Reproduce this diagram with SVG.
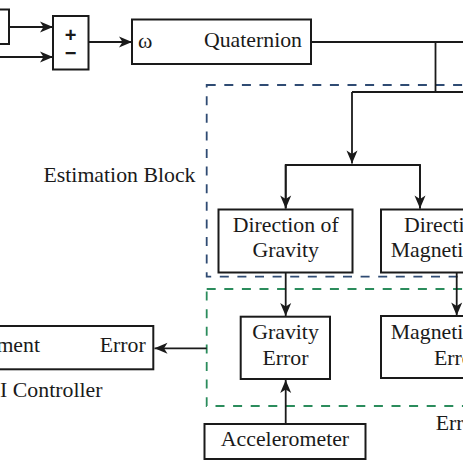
<svg xmlns="http://www.w3.org/2000/svg" width="463" height="463" viewBox="0 0 463 463">
<defs>
<style>
.box{fill:#fff;stroke:#1a1a1a;stroke-width:2}
.ln{fill:none;stroke:#1a1a1a;stroke-width:1.8}
.t{font-family:"Liberation Serif","Times New Roman",serif;font-size:21.8px;fill:#1a1a1a}
.c{text-anchor:middle}
.e{text-anchor:end}
.blue{fill:none;stroke:#2f4b73;stroke-width:1.8;stroke-dasharray:9 8.6}
.green{fill:none;stroke:#2b8c5c;stroke-width:1.8;stroke-dasharray:9 8.6}
.sign{font-family:"Liberation Sans",Arial,sans-serif;font-weight:bold;font-size:20px;fill:#1a1a1a;text-anchor:middle}
</style>
<marker id="ah" markerUnits="userSpaceOnUse" markerWidth="16" markerHeight="14" viewBox="-14 -7 16 14" refX="0" refY="0" orient="auto">
<path d="M0,0 L-13,-5.5 L-9.5,0 L-13,5.5 Z" fill="#1a1a1a"/>
</marker>
</defs>
<rect width="463" height="463" fill="#fff"/>

<g id="estimation-block">
<rect class="blue" x="206.7" y="85" width="320" height="191.7"/>
<text class="t" x="43.5" y="181.7">Estimation Block</text>
</g>
<g id="error-block">
<rect class="green" x="206.7" y="289" width="320" height="117"/>
<text class="t" x="435.7" y="429.5">Error Block</text>
</g>

<g id="connectors">
<path class="ln" d="M9,27 H53" marker-end="url(#ah)"/>
<path class="ln" d="M-2,57 H53" marker-end="url(#ah)"/>
<path class="ln" d="M88.5,42 H132" marker-end="url(#ah)"/>
<path class="ln" d="M311,42 H465"/>
<path class="ln" d="M435.5,42 V92"/>
<path class="ln" d="M352,92 H465"/>
<path class="ln" d="M352,92 V163.5" marker-end="url(#ah)"/>
<path class="ln" d="M285.7,208.5 V165 H420 V208.5"/>
<path class="ln" d="M285.7,165 V208.5" marker-end="url(#ah)"/>
<path class="ln" d="M420,165 V208.5" marker-end="url(#ah)"/>
<path class="ln" d="M285.7,273 V316" marker-end="url(#ah)"/>
<path class="ln" d="M456.7,273 V315.5" marker-end="url(#ah)"/>
<path class="ln" d="M285.7,424 V380" marker-end="url(#ah)"/>
<path class="ln" d="M206.7,348.3 H154.5" marker-end="url(#ah)"/>
</g>

<g id="input-box">
<rect class="box" x="-50" y="9.5" width="59" height="34.5"/>
</g>
<g id="sum">
<rect class="box" x="53" y="16" width="35.5" height="53.5"/>
<text class="sign" x="70.5" y="41.5">+</text>
<text class="sign" x="70.5" y="60">−</text>
</g>
<g id="quaternion">
<rect class="box" x="132" y="19.5" width="179" height="44.5"/>
<text class="t" x="138" y="48">ω</text>
<text class="t e" x="302" y="47">Quaternion</text>
</g>
<g id="direction-gravity">
<rect class="box" x="218.5" y="209.5" width="134" height="63"/>
<text class="t c" x="285.7" y="232">Direction of</text>
<text class="t c" x="285.7" y="257">Gravity</text>
</g>
<g id="direction-magnetic">
<rect class="box" x="381" y="209.5" width="152" height="63"/>
<text class="t c" x="457" y="232">Direction of</text>
<text class="t c" x="457" y="257">Magnetic Field</text>
</g>
<g id="gravity-error">
<rect class="box" x="240.7" y="316.7" width="89.3" height="62.3"/>
<text class="t c" x="285.5" y="339">Gravity</text>
<text class="t c" x="285.5" y="365">Error</text>
</g>
<g id="magnetic-error">
<rect class="box" x="381" y="316" width="152" height="62"/>
<text class="t c" x="457" y="339">Magnetic Field</text>
<text class="t c" x="457" y="365">Error</text>
</g>
<g id="accelerometer">
<rect class="box" x="204.5" y="424" width="161" height="35"/>
<text class="t c" x="285" y="446">Accelerometer</text>
</g>
<g id="controller">
<rect class="box" x="-100" y="326" width="253.3" height="43.3"/>
<text class="t e" x="40" y="352">Adjustment</text>
<text class="t e" x="145.7" y="352">Error</text>
<text class="t" x="-12" y="397">PI Controller</text>
</g>
</svg>
